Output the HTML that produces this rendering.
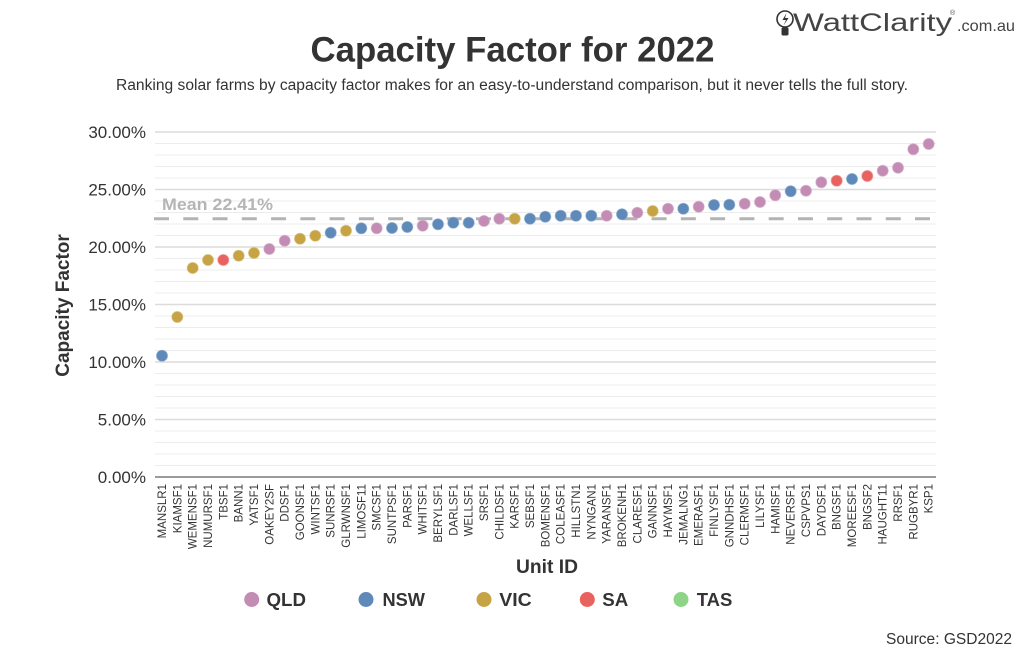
<!DOCTYPE html>
<html>
<head>
<meta charset="utf-8">
<style>
html,body{margin:0;padding:0;background:#fff;}
svg{display:block;}
text{font-family:"Liberation Sans",Arial,sans-serif;}
</style>
</head>
<body>
<svg width="1024" height="658" viewBox="0 0 1024 658" xmlns="http://www.w3.org/2000/svg">
<rect x="0" y="0" width="1024" height="658" fill="#fff"/>

<!-- Logo -->
<g>
  <circle cx="785" cy="19" r="8" fill="none" stroke="#333" stroke-width="1.6"/>
  <path d="M786.5 13 L782.5 20 L786 20 L783.5 25.5 L788.5 18 L785 18 Z" fill="#333"/>
  <rect x="781.5" y="27.5" width="7" height="8" rx="1.5" fill="#333"/>
  <text x="793" y="31" font-size="25" fill="#444" textLength="159" lengthAdjust="spacingAndGlyphs">WattClarity</text>
  <text x="950" y="15" font-size="7" fill="#555">®</text>
  <text x="957" y="31" font-size="16" fill="#444" textLength="58" lengthAdjust="spacingAndGlyphs">.com.au</text>
</g>

<!-- Title -->
<text x="310.5" y="61.5" font-size="35" font-weight="bold" fill="#333" textLength="404" lengthAdjust="spacingAndGlyphs">Capacity Factor for 2022</text>
<text x="116" y="90" font-size="15.5" fill="#333" textLength="792" lengthAdjust="spacingAndGlyphs">Ranking solar farms by capacity factor makes for an easy-to-understand comparison, but it never tells the full story.</text>

<!-- Grid -->
<g stroke="#ececec" stroke-width="1">
  <line x1="155" x2="936" y1="465.5" y2="465.5"/>
  <line x1="155" x2="936" y1="454" y2="454"/>
  <line x1="155" x2="936" y1="442.5" y2="442.5"/>
  <line x1="155" x2="936" y1="431" y2="431"/>
  <line x1="155" x2="936" y1="408" y2="408"/>
  <line x1="155" x2="936" y1="396.5" y2="396.5"/>
  <line x1="155" x2="936" y1="385" y2="385"/>
  <line x1="155" x2="936" y1="373.5" y2="373.5"/>
  <line x1="155" x2="936" y1="350.5" y2="350.5"/>
  <line x1="155" x2="936" y1="339" y2="339"/>
  <line x1="155" x2="936" y1="327.5" y2="327.5"/>
  <line x1="155" x2="936" y1="316" y2="316"/>
  <line x1="155" x2="936" y1="293" y2="293"/>
  <line x1="155" x2="936" y1="281.5" y2="281.5"/>
  <line x1="155" x2="936" y1="270" y2="270"/>
  <line x1="155" x2="936" y1="258.5" y2="258.5"/>
  <line x1="155" x2="936" y1="235.5" y2="235.5"/>
  <line x1="155" x2="936" y1="224" y2="224"/>
  <line x1="155" x2="936" y1="212.5" y2="212.5"/>
  <line x1="155" x2="936" y1="201" y2="201"/>
  <line x1="155" x2="936" y1="178" y2="178"/>
  <line x1="155" x2="936" y1="166.5" y2="166.5"/>
  <line x1="155" x2="936" y1="155" y2="155"/>
  <line x1="155" x2="936" y1="143.5" y2="143.5"/>
</g>
<g stroke="#dcdcdc" stroke-width="1.6">
  <line x1="155" x2="936" y1="419.5" y2="419.5"/>
  <line x1="155" x2="936" y1="362" y2="362"/>
  <line x1="155" x2="936" y1="304.5" y2="304.5"/>
  <line x1="155" x2="936" y1="247" y2="247"/>
  <line x1="155" x2="936" y1="189.5" y2="189.5"/>
  <line x1="155" x2="936" y1="132" y2="132"/>
</g>
<line x1="155" x2="936" y1="477" y2="477" stroke="#9a9a9a" stroke-width="2"/>

<!-- Y tick labels -->
<g font-size="17" fill="#333" text-anchor="end">
  <text x="146" y="138">30.00%</text>
  <text x="146" y="195.5">25.00%</text>
  <text x="146" y="253">20.00%</text>
  <text x="146" y="310.5">15.00%</text>
  <text x="146" y="368">10.00%</text>
  <text x="146" y="425.5">5.00%</text>
  <text x="146" y="483">0.00%</text>
</g>

<!-- Y axis title -->
<text transform="translate(69,305.5) rotate(-90)" text-anchor="middle" font-size="19" font-weight="bold" fill="#333">Capacity Factor</text>

<!-- Mean line -->
<line x1="154" x2="936" y1="218.7" y2="218.7" stroke="#b3b3b3" stroke-width="3" stroke-dasharray="15 14.27"/>
<text x="162" y="210" font-size="17" font-weight="bold" fill="#b5b5b5" textLength="111" lengthAdjust="spacingAndGlyphs">Mean  22.41%</text>

<!-- Points -->
<g stroke-width="1" stroke-opacity="0.6">
  <circle cx="162" cy="355.7" r="5.5" fill="#5e89b8" stroke="#7fa2c9"/>
  <circle cx="177.3" cy="317" r="5.5" fill="#c6a345" stroke="#d6bb6c"/>
  <circle cx="192.7" cy="268" r="5.5" fill="#c6a345" stroke="#d6bb6c"/>
  <circle cx="208" cy="260" r="5.5" fill="#c6a345" stroke="#d6bb6c"/>
  <circle cx="223.3" cy="260" r="5.5" fill="#e8625f" stroke="#ef8885"/>
  <circle cx="238.7" cy="255.7" r="5.5" fill="#c6a345" stroke="#d6bb6c"/>
  <circle cx="254" cy="253" r="5.5" fill="#c6a345" stroke="#d6bb6c"/>
  <circle cx="269.3" cy="249" r="5.5" fill="#c38cb5" stroke="#d3a9c8"/>
  <circle cx="284.7" cy="240.7" r="5.5" fill="#c38cb5" stroke="#d3a9c8"/>
  <circle cx="300" cy="238.7" r="5.5" fill="#c6a345" stroke="#d6bb6c"/>
  <circle cx="315.3" cy="235.7" r="5.5" fill="#c6a345" stroke="#d6bb6c"/>
  <circle cx="330.7" cy="232.7" r="5.5" fill="#5e89b8" stroke="#7fa2c9"/>
  <circle cx="346" cy="230.7" r="5.5" fill="#c6a345" stroke="#d6bb6c"/>
  <circle cx="361.3" cy="228.3" r="5.5" fill="#5e89b8" stroke="#7fa2c9"/>
  <circle cx="376.7" cy="228.3" r="5.5" fill="#c38cb5" stroke="#d3a9c8"/>
  <circle cx="392" cy="228" r="5.5" fill="#5e89b8" stroke="#7fa2c9"/>
  <circle cx="407.3" cy="227" r="5.5" fill="#5e89b8" stroke="#7fa2c9"/>
  <circle cx="422.7" cy="225.7" r="5.5" fill="#c38cb5" stroke="#d3a9c8"/>
  <circle cx="438" cy="224.3" r="5.5" fill="#5e89b8" stroke="#7fa2c9"/>
  <circle cx="453.3" cy="222.7" r="5.5" fill="#5e89b8" stroke="#7fa2c9"/>
  <circle cx="468.7" cy="222.7" r="5.5" fill="#5e89b8" stroke="#7fa2c9"/>
  <circle cx="484" cy="221" r="5.5" fill="#c38cb5" stroke="#d3a9c8"/>
  <circle cx="499.3" cy="218.7" r="5.5" fill="#c38cb5" stroke="#d3a9c8"/>
  <circle cx="514.7" cy="218.7" r="5.5" fill="#c6a345" stroke="#d6bb6c"/>
  <circle cx="530" cy="218.7" r="5.5" fill="#5e89b8" stroke="#7fa2c9"/>
  <circle cx="545.3" cy="216.7" r="5.5" fill="#5e89b8" stroke="#7fa2c9"/>
  <circle cx="560.7" cy="215.7" r="5.5" fill="#5e89b8" stroke="#7fa2c9"/>
  <circle cx="576" cy="215.7" r="5.5" fill="#5e89b8" stroke="#7fa2c9"/>
  <circle cx="591.3" cy="215.7" r="5.5" fill="#5e89b8" stroke="#7fa2c9"/>
  <circle cx="606.7" cy="215.7" r="5.5" fill="#c38cb5" stroke="#d3a9c8"/>
  <circle cx="622" cy="214.3" r="5.5" fill="#5e89b8" stroke="#7fa2c9"/>
  <circle cx="637.3" cy="212.7" r="5.5" fill="#c38cb5" stroke="#d3a9c8"/>
  <circle cx="652.7" cy="211" r="5.5" fill="#c6a345" stroke="#d6bb6c"/>
  <circle cx="668" cy="208.7" r="5.5" fill="#c38cb5" stroke="#d3a9c8"/>
  <circle cx="683.3" cy="208.7" r="5.5" fill="#5e89b8" stroke="#7fa2c9"/>
  <circle cx="698.7" cy="206.7" r="5.5" fill="#c38cb5" stroke="#d3a9c8"/>
  <circle cx="714" cy="205" r="5.5" fill="#5e89b8" stroke="#7fa2c9"/>
  <circle cx="729.3" cy="204.7" r="5.5" fill="#5e89b8" stroke="#7fa2c9"/>
  <circle cx="744.7" cy="203.7" r="5.5" fill="#c38cb5" stroke="#d3a9c8"/>
  <circle cx="760" cy="202" r="5.5" fill="#c38cb5" stroke="#d3a9c8"/>
  <circle cx="775.3" cy="195.3" r="5.5" fill="#c38cb5" stroke="#d3a9c8"/>
  <circle cx="790.7" cy="191.3" r="5.5" fill="#5e89b8" stroke="#7fa2c9"/>
  <circle cx="806" cy="190.7" r="5.5" fill="#c38cb5" stroke="#d3a9c8"/>
  <circle cx="821.3" cy="182.3" r="5.5" fill="#c38cb5" stroke="#d3a9c8"/>
  <circle cx="836.7" cy="180.7" r="5.5" fill="#e8625f" stroke="#ef8885"/>
  <circle cx="852" cy="179" r="5.5" fill="#5e89b8" stroke="#7fa2c9"/>
  <circle cx="867.3" cy="176" r="5.5" fill="#e8625f" stroke="#ef8885"/>
  <circle cx="882.7" cy="170.7" r="5.5" fill="#c38cb5" stroke="#d3a9c8"/>
  <circle cx="898" cy="167.7" r="5.5" fill="#c38cb5" stroke="#d3a9c8"/>
  <circle cx="913.3" cy="149.3" r="5.5" fill="#c38cb5" stroke="#d3a9c8"/>
  <circle cx="928.7" cy="144" r="5.5" fill="#c38cb5" stroke="#d3a9c8"/>
</g>

<!-- X tick labels -->
<g font-size="11.5" fill="#333" text-anchor="end">
  <text transform="translate(166,484) rotate(-90)">MANSLR1</text>
  <text transform="translate(181.3,484) rotate(-90)">KIAMSF1</text>
  <text transform="translate(196.7,484) rotate(-90)">WEMENSF1</text>
  <text transform="translate(212,484) rotate(-90)">NUMURSF1</text>
  <text transform="translate(227.3,484) rotate(-90)">TBSF1</text>
  <text transform="translate(242.7,484) rotate(-90)">BANN1</text>
  <text transform="translate(258,484) rotate(-90)">YATSF1</text>
  <text transform="translate(273.3,484) rotate(-90)">OAKEY2SF</text>
  <text transform="translate(288.7,484) rotate(-90)">DDSF1</text>
  <text transform="translate(304,484) rotate(-90)">GOONSF1</text>
  <text transform="translate(319.3,484) rotate(-90)">WINTSF1</text>
  <text transform="translate(334.7,484) rotate(-90)">SUNRSF1</text>
  <text transform="translate(350,484) rotate(-90)">GLRWNSF1</text>
  <text transform="translate(365.3,484) rotate(-90)">LIMOSF11</text>
  <text transform="translate(380.7,484) rotate(-90)">SMCSF1</text>
  <text transform="translate(396,484) rotate(-90)">SUNTPSF1</text>
  <text transform="translate(411.3,484) rotate(-90)">PARSF1</text>
  <text transform="translate(426.7,484) rotate(-90)">WHITSF1</text>
  <text transform="translate(442,484) rotate(-90)">BERYLSF1</text>
  <text transform="translate(457.3,484) rotate(-90)">DARLSF1</text>
  <text transform="translate(472.7,484) rotate(-90)">WELLSF1</text>
  <text transform="translate(488,484) rotate(-90)">SRSF1</text>
  <text transform="translate(503.3,484) rotate(-90)">CHILDSF1</text>
  <text transform="translate(518.7,484) rotate(-90)">KARSF1</text>
  <text transform="translate(534,484) rotate(-90)">SEBSF1</text>
  <text transform="translate(549.3,484) rotate(-90)">BOMENSF1</text>
  <text transform="translate(564.7,484) rotate(-90)">COLEASF1</text>
  <text transform="translate(580,484) rotate(-90)">HILLSTN1</text>
  <text transform="translate(595.3,484) rotate(-90)">NYNGAN1</text>
  <text transform="translate(610.7,484) rotate(-90)">YARANSF1</text>
  <text transform="translate(626,484) rotate(-90)">BROKENH1</text>
  <text transform="translate(641.3,484) rotate(-90)">CLARESF1</text>
  <text transform="translate(656.7,484) rotate(-90)">GANNSF1</text>
  <text transform="translate(672,484) rotate(-90)">HAYMSF1</text>
  <text transform="translate(687.3,484) rotate(-90)">JEMALNG1</text>
  <text transform="translate(702.7,484) rotate(-90)">EMERASF1</text>
  <text transform="translate(718,484) rotate(-90)">FINLYSF1</text>
  <text transform="translate(733.3,484) rotate(-90)">GNNDHSF1</text>
  <text transform="translate(748.7,484) rotate(-90)">CLERMSF1</text>
  <text transform="translate(764,484) rotate(-90)">LILYSF1</text>
  <text transform="translate(779.3,484) rotate(-90)">HAMISF1</text>
  <text transform="translate(794.7,484) rotate(-90)">NEVERSF1</text>
  <text transform="translate(810,484) rotate(-90)">CSPVPS1</text>
  <text transform="translate(825.3,484) rotate(-90)">DAYDSF1</text>
  <text transform="translate(840.7,484) rotate(-90)">BNGSF1</text>
  <text transform="translate(856,484) rotate(-90)">MOREESF1</text>
  <text transform="translate(871.3,484) rotate(-90)">BNGSF2</text>
  <text transform="translate(886.7,484) rotate(-90)">HAUGHT11</text>
  <text transform="translate(902,484) rotate(-90)">RRSF1</text>
  <text transform="translate(917.3,484) rotate(-90)">RUGBYR1</text>
  <text transform="translate(932.7,484) rotate(-90)">KSP1</text>
</g>

<!-- X axis title -->
<text x="516" y="573" font-size="19" font-weight="bold" fill="#333" textLength="62" lengthAdjust="spacingAndGlyphs">Unit ID</text>

<!-- Legend -->
<g font-size="18.5" font-weight="bold" fill="#333">
  <circle cx="251.7" cy="599.5" r="7.5" fill="#c38cb5"/>
  <text x="266.5" y="606" textLength="39.5" lengthAdjust="spacingAndGlyphs">QLD</text>
  <circle cx="366" cy="599.5" r="7.5" fill="#5e89b8"/>
  <text x="382.5" y="606" textLength="42.5" lengthAdjust="spacingAndGlyphs">NSW</text>
  <circle cx="484" cy="599.5" r="7.5" fill="#c6a345"/>
  <text x="499.3" y="606" textLength="32.4" lengthAdjust="spacingAndGlyphs">VIC</text>
  <circle cx="587.3" cy="599.5" r="7.5" fill="#e8625f"/>
  <text x="602.3" y="606" textLength="26" lengthAdjust="spacingAndGlyphs">SA</text>
  <circle cx="681" cy="599.5" r="7.5" fill="#8ed487"/>
  <text x="696.7" y="606" textLength="35.6" lengthAdjust="spacingAndGlyphs">TAS</text>
</g>

<!-- Source -->
<text x="886" y="644" font-size="15.5" fill="#333" textLength="126" lengthAdjust="spacingAndGlyphs">Source: GSD2022</text>
</svg>
</body>
</html>
